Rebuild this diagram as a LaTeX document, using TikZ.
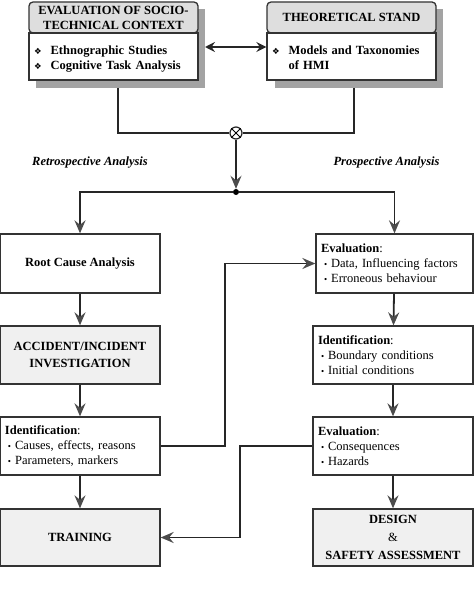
\documentclass[tikz,border=0pt]{standalone}
\usepackage{fontspec}
\setmainfont{Liberation Serif}
\newfontfamily\symfont{DejaVu Sans}
\usepackage{xcolor}
\usetikzlibrary{arrows.meta}

\definecolor{shadowgray}{gray}{0.64}
\definecolor{headgray}{gray}{0.87}
\definecolor{lightfill}{gray}{0.94}
\definecolor{linegray}{gray}{0.2}
\definecolor{tipgray}{gray}{0.3}

\newcommand{\diagfont}{\fontsize{12.5}{15}\selectfont}
\newcommand{\diamondmark}{{\symfont\fontsize{8.5}{8.5}\selectfont ❖}}
\newcommand{\itm}{\hspace*{3pt}{\small\textbullet}\hspace{4pt}}

\begin{document}
\begin{tikzpicture}[x=1pt, y=-1pt,
    every node/.style={font=\diagfont},
    box/.style={draw=linegray, line width=1.3pt, fill=white, inner xsep=5pt, inner ysep=0pt},
    headbox/.style={draw=linegray, line width=1.3pt, fill=headgray, rounded corners=4pt, inner sep=0pt, font=\diagfont\bfseries},
    phase/.style={font=\diagfont\bfseries\itshape},
    link/.style={line width=1.8pt, draw=black!85},
    arrow/.style={link, -{Stealth[length=13pt, width=11pt, inset=4.5pt, fill=tipgray, color=tipgray]}},
    dblarrow/.style={link, {Stealth[length=10pt, width=10pt, inset=3.5pt]}-{Stealth[length=10pt, width=10pt, inset=3.5pt]}}]
    \useasboundingbox (0,0) rectangle (474,591);

    % shadows of the two top boxes
    \fill[shadowgray] (36,9) rectangle (205,88);
    \fill[shadowgray] (275,9) rectangle (443,88);

    % top boxes
    \node[headbox, minimum width=169pt, minimum height=31pt, align=center] (sociohead) at (113.5,17.5) {EVALUATION OF SOCIO-\\TECHNICAL CONTEXT};
    \node[box, minimum width=169pt, minimum height=47pt, text width=159pt, align=left] (sociobody) at (113.5,56.5)
        {\begin{tabular}{@{}l@{\hspace{9pt}}l@{}}\rule{0pt}{16.5pt}\diamondmark & \textbf{Ethnographic Studies}\\ \diamondmark & \textbf{Cognitive Task Analysis}\end{tabular}};
    \node[headbox, minimum width=169pt, minimum height=31pt] (theohead) at (351.5,17.5) {THEORETICAL STAND};
    \node[box, minimum width=169pt, minimum height=47pt, text width=159pt, align=left] (theobody) at (351.5,56.5)
        {\begin{tabular}{@{}l@{\hspace{9pt}}l@{}}\rule{0pt}{16.5pt}\diamondmark & \textbf{Models and Taxonomies}\\ & \textbf{of HMI}\end{tabular}};

    \coordinate (sociolink) at (205,47);
    \coordinate (sociodrop) at (118,88);
    \coordinate (theodrop) at (354,88);

    % merge and split
    \node[circle, draw=black!85, line width=1.2pt, fill=white, minimum size=12pt, inner sep=0pt] (merge) at (236,133) {};
    \draw[line width=1pt] (merge.north west) -- (merge.south east);
    \draw[line width=1pt] (merge.north east) -- (merge.south west);
    \node[circle, fill=black, inner sep=0pt, minimum size=6pt] (split) at (236,192) {};

    \node[phase] (retro) at (90,163) {Retrospective Analysis};
    \node[phase] (prosp) at (386.5,163) {Prospective Analysis};

    % left column
    \node[box, minimum width=160pt, minimum height=59pt] (rootcause) at (80,263.5) {\textbf{Root Cause Analysis}};
    \node[box, fill=lightfill, minimum width=160pt, minimum height=58pt, align=center] (accident) at (80,355) {\textbf{ACCIDENT/INCIDENT}\\[1.5pt]\textbf{INVESTIGATION}};
    \node[box, minimum width=160pt, minimum height=58pt, text width=150pt, align=left] (identcause) at (80,446)
        {\textbf{Identification}:\\\itm Causes, effects, reasons\\\itm Parameters, markers};
    \node[box, fill=lightfill, minimum width=160pt, minimum height=57pt] (training) at (80,537.5) {\textbf{TRAINING}};

    % right column
    \node[box, minimum width=157pt, minimum height=59pt, text width=147pt, align=left] (evaldata) at (394.5,263.5)
        {\textbf{Evaluation}:\\\itm Data, Influencing factors\\\itm Erroneous behaviour};
    \node[box, minimum width=160pt, minimum height=58pt, text width=150pt, align=left] (identbound) at (393,355)
        {\textbf{Identification}:\\\itm Boundary conditions\\\itm Initial conditions};
    \node[box, minimum width=160pt, minimum height=58pt, text width=150pt, align=left] (evalconseq) at (393,446)
        {\textbf{Evaluation}:\\\itm Consequences\\\itm Hazards};
    \node[box, fill=lightfill, minimum width=160pt, minimum height=57pt, align=center] (design) at (393,537.5)
        {\textbf{DESIGN}\\[3pt]\&\\[3pt]\textbf{SAFETY ASSESSMENT}};

    \draw[dblarrow] (sociolink) -- (sociolink -| theobody.west); % context-theory
    \draw[link] (sociodrop) |- (merge.west); % context-merge
    \draw[link] (theodrop) |- (merge.east); % theory-merge
    \draw[arrow] (merge.south) -- (split.north); % merge-split
    \draw[arrow] (split) -| (rootcause.north); % split-retro
    \draw[arrow] (split) -| (evaldata.north); % split-prosp

    \draw[arrow] (rootcause) -- (accident);
    \draw[arrow] (accident) -- (identcause);
    \draw[arrow] (identcause) -- (training);
    \draw[arrow] (evaldata) -- (identbound);
    \draw[arrow] (identbound) -- (evalconseq);
    \draw[arrow] (evalconseq) -- (design);

    \draw[arrow] (identcause.east) -- ++(64.5,0) |- (evaldata.west); % causes-data
    \draw[arrow] (evalconseq.west) -- ++(-72.5,0) |- (training.east); % consequences-training
\end{tikzpicture}
\end{document}
